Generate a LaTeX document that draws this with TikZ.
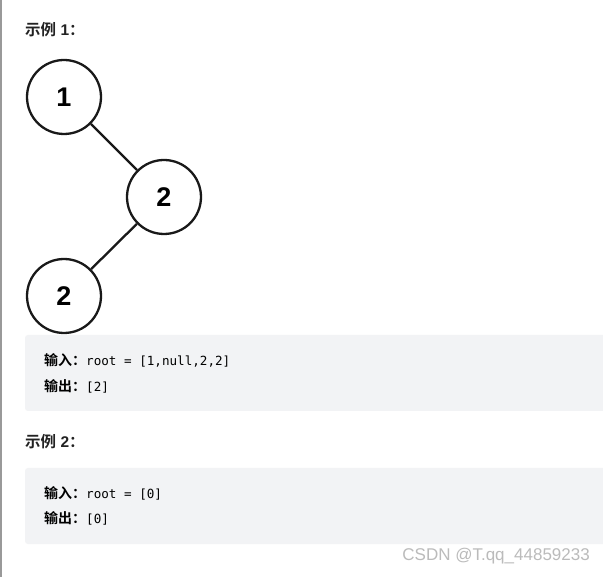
\documentclass[tikz,border=0pt]{standalone}
\usepackage{fontspec}
\setmainfont{Liberation Sans}
\newfontfamily\cjk{Noto Sans CJK SC}
\newfontfamily\cjkb{Noto Sans CJK SC Bold}
\newfontfamily\codefont{DejaVu Sans Mono}
\definecolor{boxgray}{HTML}{F2F3F5}
\definecolor{wmgray}{HTML}{BBBBBB}
\definecolor{bordergray}{HTML}{999999}
\definecolor{txt}{HTML}{222222}
\newcommand{\codetxt}[1]{{\codefont\fontsize{12.6}{12.6}\selectfont #1}}
\tikzset{
  treenode/.style={circle, draw=black!90, line width=2.3pt, minimum size=74pt, inner sep=0pt, fill=white, font=\fontsize{27}{27}\selectfont\bfseries},
  edge/.style={line width=2.3pt, draw=black!90},
  codebox/.style={fill=boxgray, rounded corners=3pt},
  heading/.style={anchor=west, inner sep=0pt, text=txt, font=\fontsize{15.5}{15.5}\selectfont},
  codeline/.style={anchor=west, inner sep=0pt, text=black, font=\fontsize{14}{14}\selectfont},
}
\begin{document}
\begin{tikzpicture}[x=1pt,y=-1pt]
\useasboundingbox (0,0) rectangle (603,577);
\fill[white] (0,0) rectangle (603,577);
\draw[bordergray, line width=1.5pt] (1,0) -- (1,577);
\node[heading] (h1) at (25,30) {{\cjkb 示例} \textbf{1}{\cjkb ：}};
\node[treenode] (n1) at (64,97) {1};
\node[treenode] (n2) at (164,197) {2};
\node[treenode] (n3) at (64,296) {2};
\draw[edge] (n1) -- (n2);
\draw[edge] (n2) -- (n3);
\fill[codebox] (25,335) rectangle (610,411);
\node[codeline] (c1) at (44,360) {{\cjkb 输入：}\codetxt{root = [1,null,2,2]}};
\node[codeline] (c2) at (44,386) {{\cjkb 输出：}\codetxt{[2]}};
\node[heading] (h2) at (25,442) {{\cjkb 示例} \textbf{2}{\cjkb ：}};
\fill[codebox] (25,468) rectangle (610,544);
\node[codeline] (c3) at (44,493) {{\cjkb 输入：}\codetxt{root = [0]}};
\node[codeline] (c4) at (44,518) {{\cjkb 输出：}\codetxt{[0]}};
\node[anchor=east, inner sep=0pt, text=wmgray, font=\fontsize{17}{17}\selectfont] (wm) at (590,556) {CSDN @T.qq\_44859233};
\end{tikzpicture}
\end{document}
